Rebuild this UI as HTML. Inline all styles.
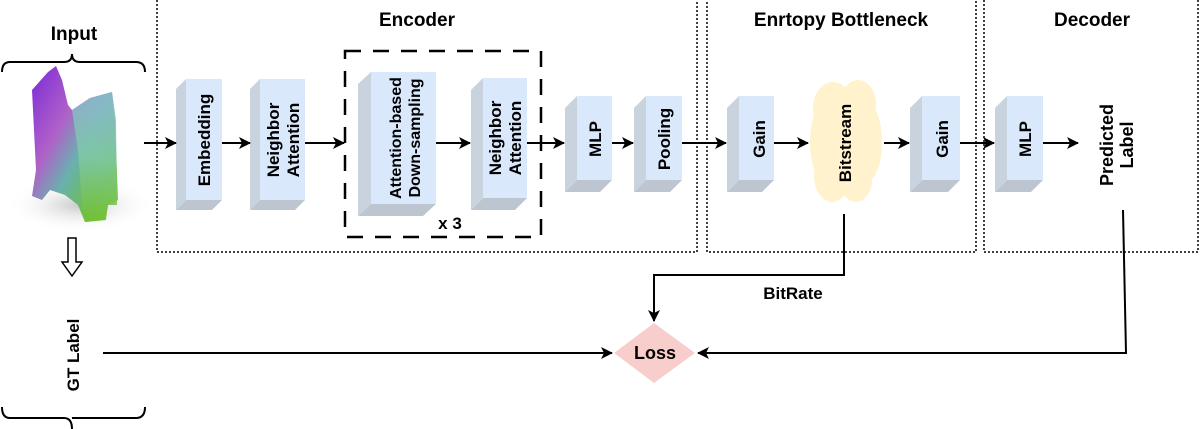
<!DOCTYPE html>
<html><head><meta charset="utf-8"><style>
html,body{margin:0;padding:0;background:#fff;}
svg{display:block;font-family:"Liberation Sans",sans-serif;font-weight:bold;}
</style></head><body>
<svg width="1200" height="429" viewBox="0 0 1200 429" xmlns="http://www.w3.org/2000/svg">
<defs>
<marker id="a" markerWidth="12" markerHeight="12" refX="11" refY="6" orient="auto" markerUnits="userSpaceOnUse">
<path d="M0,0 L12,6 L0,12 L3,6 Z" fill="#000"/></marker>
<linearGradient id="pc" x1="0" y1="0" x2="1" y2="1">
<stop offset="0" stop-color="#7a2ad8"/><stop offset="0.35" stop-color="#b060c8"/><stop offset="0.55" stop-color="#6ab0b0"/><stop offset="0.8" stop-color="#6cc040"/><stop offset="1" stop-color="#a0d020"/></linearGradient>
<linearGradient id="pc2" x1="0" y1="0" x2="0" y2="1">
<stop offset="0" stop-color="#8cb8d0"/><stop offset="0.5" stop-color="#80c8a8"/><stop offset="1" stop-color="#70c030"/></linearGradient>
<radialGradient id="sh" cx="0.5" cy="0.5" r="0.5"><stop offset="0" stop-color="#c8c8c8"/><stop offset="1" stop-color="#fff" stop-opacity="0"/></radialGradient>
</defs>

<g fill="none" stroke="#000" stroke-width="1.5" stroke-dasharray="2,2">
<rect x="157" y="-2" width="540" height="254"/>
<rect x="707" y="-2" width="269" height="254"/>
<rect x="984" y="-2" width="214" height="254"/>
</g>
<text x="417" y="26" font-size="19" text-anchor="middle">Encoder</text>
<text x="841" y="26" font-size="19" text-anchor="middle">Enrtopy Bottleneck</text>
<text x="1092" y="26" font-size="19" text-anchor="middle">Decoder</text>

<rect x="345" y="51" width="196" height="186" fill="none" stroke="#000" stroke-width="2.5" stroke-dasharray="16,12"/>
<text x="450" y="229" font-size="17" text-anchor="middle">x 3</text>

<text x="74" y="40" font-size="19" text-anchor="middle">Input</text>
<path d="M2,72 Q2,62 10,62 L64,62 Q72,62 72,54 Q72,62 80,62 L136,62 Q145,62 145,72" fill="none" stroke="#000" stroke-width="2"/>
<ellipse cx="80" cy="205" rx="75" ry="28" fill="url(#sh)"/>
<path d="M48,72 L56,66 L62,80 L68,105 L72,110 L90,98 L112,92 L115,120 L118,200 L108,205 L105,220 L85,222 L78,205 L65,195 L50,190 L42,200 L32,196 L36,170 L32,90 Z" fill="url(#pc)"/>
<path d="M72,110 L90,98 L112,92 L116,120 L117,205 L108,205 L106,220 L85,222 L82,205 L78,150 Z" fill="url(#pc2)" opacity="0.85"/>

<path d="M68,238 L76,238 L76,262 L82,262 L72,276 L62,262 L68,262 Z" fill="#fff" stroke="#000" stroke-width="1.5"/>
<text transform="translate(79,355) rotate(-90)" font-size="17" text-anchor="middle">GT Label</text>
<path d="M2,407 Q2,418 10,418 L64,418 Q72,418 72,429 M72,418 Q80,418 88,418 L136,418 Q145,418 145,407" fill="none" stroke="#000" stroke-width="2"/>

<g>
<g><path d="M176,89 L186,79 L186,200 L176,210 Z" fill="#c9d3de"/><path d="M176,210 L186,200 L222,200 L212,210 Z" fill="#bdc6d0"/><rect x="186" y="79" width="36" height="121" fill="#dae8fc"/></g>
<g><path d="M250,89 L260,79 L260,200 L250,210 Z" fill="#c9d3de"/><path d="M250,210 L260,200 L305,200 L295,210 Z" fill="#bdc6d0"/><rect x="260" y="79" width="45" height="121" fill="#dae8fc"/></g>
<g><path d="M358,84 L371,72 L371,204 L358,216 Z" fill="#c9d3de"/><path d="M358,216 L371,204 L436,204 L423,216 Z" fill="#bdc6d0"/><rect x="371" y="72" width="65" height="132" fill="#dae8fc"/></g>
<g><path d="M471,90 L483,78 L483,198 L471,210 Z" fill="#c9d3de"/><path d="M471,210 L483,198 L527,198 L515,210 Z" fill="#bdc6d0"/><rect x="483" y="78" width="44" height="120" fill="#dae8fc"/></g>
<g><path d="M565,108 L577,96 L577,180 L565,192 Z" fill="#c9d3de"/><path d="M565,192 L577,180 L612,180 L600,192 Z" fill="#bdc6d0"/><rect x="577" y="96" width="35" height="84" fill="#dae8fc"/></g>
<g><path d="M634,108 L646,96 L646,180 L634,192 Z" fill="#c9d3de"/><path d="M634,192 L646,180 L682,180 L670,192 Z" fill="#bdc6d0"/><rect x="646" y="96" width="36" height="84" fill="#dae8fc"/></g>
<g><path d="M727,108 L739,96 L739,180 L727,192 Z" fill="#c9d3de"/><path d="M727,192 L739,180 L774,180 L762,192 Z" fill="#bdc6d0"/><rect x="739" y="96" width="35" height="84" fill="#dae8fc"/></g>
<g><path d="M910,108 L922,96 L922,180 L910,192 Z" fill="#c9d3de"/><path d="M910,192 L922,180 L960,180 L948,192 Z" fill="#bdc6d0"/><rect x="922" y="96" width="38" height="84" fill="#dae8fc"/></g>
<g><path d="M995,108 L1007,96 L1007,180 L995,192 Z" fill="#c9d3de"/><path d="M995,192 L1007,180 L1043,180 L1031,192 Z" fill="#bdc6d0"/><rect x="1007" y="96" width="36" height="84" fill="#dae8fc"/></g>
</g>
<g fill="#fff2cc">
<ellipse cx="845" cy="142" rx="34" ry="52"/>
<ellipse cx="833" cy="108" rx="20" ry="26"/><ellipse cx="858" cy="104" rx="18" ry="24"/>
<ellipse cx="832" cy="176" rx="18" ry="26"/><ellipse cx="856" cy="180" rx="16" ry="22"/>
<ellipse cx="866" cy="142" rx="16" ry="40"/><ellipse cx="825" cy="142" rx="15" ry="40"/>
</g>

<g font-size="17" text-anchor="middle">
<text transform="translate(210,140) rotate(-90)">Embedding</text>
<text transform="translate(279,140) rotate(-90)">Neighbor</text>
<text transform="translate(299,140) rotate(-90)">Attention</text>
<text transform="translate(401,138) rotate(-90)" font-size="16">Attention-based</text>
<text transform="translate(420,138) rotate(-90)" font-size="16">Down-sampling</text>
<text transform="translate(501,138) rotate(-90)">Neighbor</text>
<text transform="translate(521,138) rotate(-90)">Attention</text>
<text transform="translate(601,139) rotate(-90)">MLP</text>
<text transform="translate(670,139) rotate(-90)">Pooling</text>
<text transform="translate(765,139) rotate(-90)">Gain</text>
<text transform="translate(851,143) rotate(-90)">Bitstream</text>
<text transform="translate(948,139) rotate(-90)">Gain</text>
<text transform="translate(1031,139) rotate(-90)">MLP</text>
<text transform="translate(1113,145) rotate(-90)" font-size="18">Predicted</text>
<text transform="translate(1133,145) rotate(-90)" font-size="18">Label</text>
</g>

<g stroke="#000" stroke-width="2" fill="none" marker-end="url(#a)">
<line x1="144" y1="143" x2="176" y2="143"/>
<line x1="222" y1="143" x2="250" y2="143"/>
<line x1="305" y1="143" x2="344" y2="143"/>
<line x1="436" y1="143" x2="470" y2="143"/>
<line x1="527" y1="143" x2="564" y2="143"/>
<line x1="612" y1="143" x2="633" y2="143"/>
<line x1="682" y1="143" x2="726" y2="143"/>
<line x1="774" y1="143" x2="808" y2="143"/>
<line x1="884" y1="143" x2="909" y2="143"/>
<line x1="960" y1="143" x2="994" y2="143"/>
<line x1="1043" y1="143" x2="1078" y2="143"/>
<polyline points="844,214 844,275 654,275 654,321"/>
<line x1="103" y1="353" x2="612" y2="353"/>
<polyline points="1123,210 1126,353 698,353"/>
</g>
<text x="793" y="299" font-size="17" text-anchor="middle">BitRate</text>
<path d="M654,323 L695,353 L654,383 L614,353 Z" fill="#f8cecc"/>
<text x="655" y="359" font-size="18" text-anchor="middle">Loss</text>
</svg>
</body></html>
